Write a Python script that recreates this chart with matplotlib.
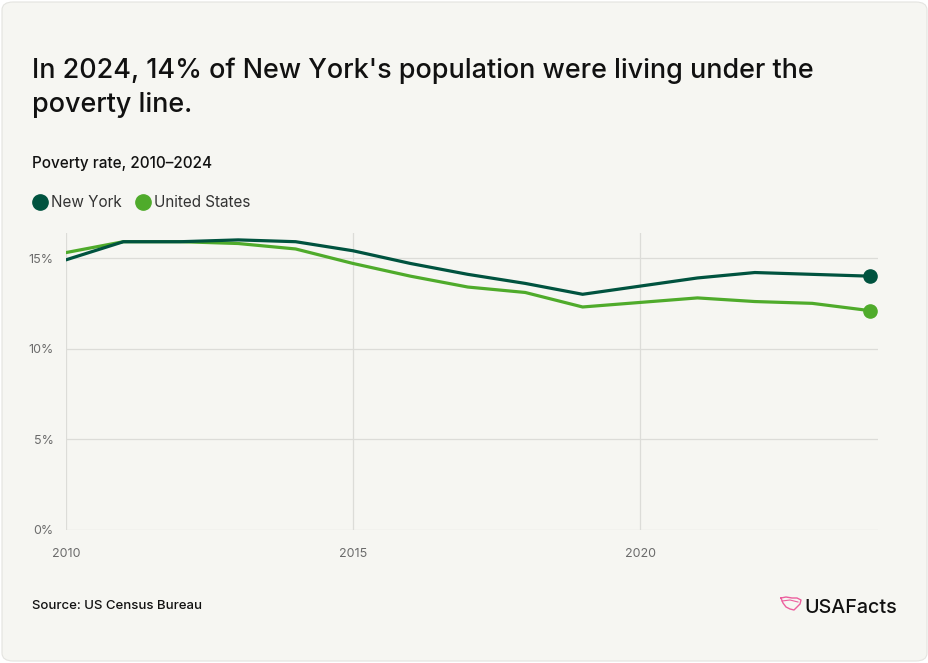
import matplotlib.pyplot as plt
import matplotlib.patches as mpatches
from matplotlib.ticker import FuncFormatter

plt.rcParams['font.family'] = ['Inter', 'DejaVu Sans']

# Poverty rate (%) - no 2020 value in the source
years = [2010, 2011, 2012, 2013, 2014, 2015, 2016, 2017, 2018, 2019, 2021, 2022, 2023, 2024]
new_york = [14.9, 15.9, 15.9, 16.0, 15.9, 15.4, 14.7, 14.1, 13.6, 13.0, 13.9, 14.2, 14.1, 14.0]
united_states = [15.3, 15.9, 15.9, 15.8, 15.5, 14.7, 14.0, 13.4, 13.1, 12.3, 12.8, 12.6, 12.5, 12.1]

x_ticks = [2010, 2015, 2020]
y_ticks = [0, 5, 10, 15]

NY_COLOR = '#00533f'
US_COLOR = '#4fab2b'
BG = '#f6f6f2'

W, H = 929, 663
fig = plt.figure(figsize=(W / 100, H / 100), dpi=100)
fig.patch.set_facecolor('white')

card = mpatches.FancyBboxPatch((2 / W, 2 / H), (W - 4) / W, (H - 4) / H,
                               boxstyle='round,pad=0,rounding_size=0.012',
                               transform=fig.transFigure, facecolor=BG,
                               edgecolor='#e4e4e0', linewidth=0.8, zorder=-5)
fig.patches.append(card)


def px(x, y):
    return x / W, 1 - y / H


ax = fig.add_axes([66 / W, 1 - 530 / H, (878 - 66) / W, (530 - 233) / H])
ax.set_facecolor('none')

ax.plot(years, united_states, color=US_COLOR, lw=2.3, solid_capstyle='round', zorder=3)
ax.plot(years, new_york, color=NY_COLOR, lw=2.3, solid_capstyle='round', zorder=4)
ax.plot(years[-1], united_states[-1], 'o', color=US_COLOR, ms=9.5, zorder=5, clip_on=False)
ax.plot(years[-1], new_york[-1], 'o', color=NY_COLOR, ms=9.5, zorder=5, clip_on=False)

ax.set_xlim(2010, 2024.146)
ax.set_ylim(0, 16.38)
ax.set_xticks(x_ticks)
ax.set_yticks(y_ticks)
ax.yaxis.set_major_formatter(FuncFormatter(lambda v, p: f'{int(v)}%'))
ax.grid(True, color='#dcdcd8', lw=0.9)
ax.set_axisbelow(True)
for s in ax.spines.values():
    s.set_visible(False)
ax.tick_params(length=0, labelsize=9, labelcolor='#6b6b6b')
ax.tick_params(axis='x', pad=13)
ax.tick_params(axis='y', pad=9)

# texts
fig.text(*px(32, 78), "In 2024, 14% of New York's population were living under the",
         fontsize=19.4, fontweight='medium', color='#111111', va='baseline')
fig.text(*px(32, 112), "poverty line.",
         fontsize=19.4, fontweight='medium', color='#111111', va='baseline')
fig.text(*px(32, 168), "Poverty rate, 2010\u20132024",
         fontsize=11, fontweight='medium', color='#111111', va='baseline')

for cx, label, color in [(40, 'New York', NY_COLOR), (143, 'United States', US_COLOR)]:
    fig.lines.append(plt.Line2D([px(cx, 202)[0]], [px(cx, 202)[1]], marker='o', ms=11,
                                color=color, transform=fig.transFigure))
    fig.text(*px(cx + 11, 207), label, fontsize=11, color='#333333', va='baseline')

fig.text(*px(32, 609), "Source: US Census Bureau",
         fontsize=9.5, fontweight='medium', color='#111111', va='baseline')

# logo
fig.text(*px(897, 613), "USAFacts", fontsize=14.2, fontweight='medium',
         color='#111111', va='baseline', ha='right')
lx = [781, 786, 792, 797, 801, 800, 797, 794, 790, 786, 783, 781]
ly = [598, 597, 598, 598, 600, 604, 607, 610, 609, 607, 603, 598]
fig.lines.append(plt.Line2D([px(a, b)[0] for a, b in zip(lx, ly)],
                            [px(a, b)[1] for a, b in zip(lx, ly)],
                            color='#ec5f9e', lw=1.0, transform=fig.transFigure))
fig.lines.append(plt.Line2D([px(a, b)[0] for a, b in [(782, 601), (790, 600), (798, 602)]],
                            [px(a, b)[1] for a, b in [(782, 601), (790, 600), (798, 602)]],
                            color='#ec5f9e', lw=0.8, transform=fig.transFigure))

fig.savefig('out.png', dpi=100, facecolor='white')
